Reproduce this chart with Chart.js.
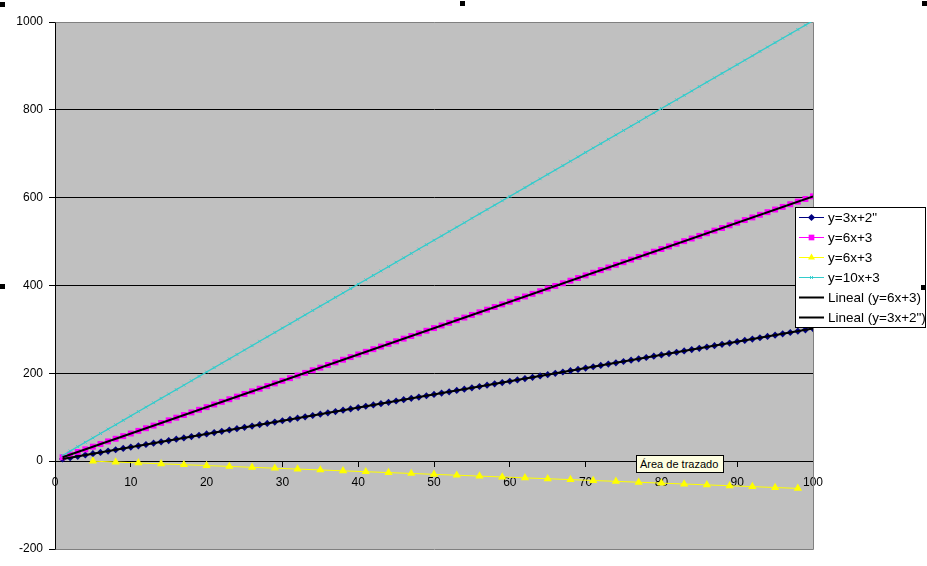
<!DOCTYPE html>
<html>
<head>
<meta charset="utf-8">
<script src="https://cdn.jsdelivr.net/npm/chart.js@4/dist/chart.umd.min.js"></script>
<style>
  html, body { margin: 0; padding: 0; background: #fff; }
  #wrap { position: relative; width: 927px; height: 566px; overflow: hidden; }
  canvas { position: absolute; left: 0; top: 0; }
  .handle { position: absolute; width: 5px; height: 5px; background: #000; }
  #tip { position: absolute; left: 636px; top: 455px; width: 83px; height: 16px; background: #FFFFE1;
         border: 1px solid #000; font: 11px "Liberation Sans", Arial, sans-serif; line-height: 16px;
         padding-left: 3px; box-sizing: content-box; color: #000; white-space: nowrap; }
</style>
</head>
<body>
<div id="wrap">
  <canvas id="c" width="927" height="566"></canvas>
  <div class="handle" style="left:0px;top:2px"></div>
  <div class="handle" style="left:460px;top:1px"></div>
  <div class="handle" style="left:922px;top:1px"></div>
  <div class="handle" style="left:0px;top:284px"></div>
  <div class="handle" style="left:921px;top:285px"></div>
  <div id="tip">Área de trazado</div>
</div>
<script>
const xValues = [1,2,3,4,5,6,7,8,9,10,11,12,13,14,15,16,17,18,19,20,21,22,23,24,25,26,27,28,29,30,
  31,32,33,34,35,36,37,38,39,40,41,42,43,44,45,46,47,48,49,50,51,52,53,54,55,56,57,58,59,60,
  61,62,63,64,65,66,67,68,69,70,71,72,73,74,75,76,77,78,79,80,81,82,83,84,85,86,87,88,89,90,
  91,92,93,94,95,96,97,98,99,100];
const seriesA = [5,8,11,14,17,20,23,26,29,32,35,38,41,44,47,50,53,56,59,62,
  65,68,71,74,77,80,83,86,89,92,95,98,101,104,107,110,113,116,119,122,
  125,128,131,134,137,140,143,146,149,152,155,158,161,164,167,170,173,176,179,182,
  185,188,191,194,197,200,203,206,209,212,215,218,221,224,227,230,233,236,239,242,
  245,248,251,254,257,260,263,266,269,272,275,278,281,284,287,290,293,296,299,302];
const seriesB = [9,15,21,27,33,39,45,51,57,63,69,75,81,87,93,99,105,111,117,123,
  129,135,141,147,153,159,165,171,177,183,189,195,201,207,213,219,225,231,237,243,
  249,255,261,267,273,279,285,291,297,303,309,315,321,327,333,339,345,351,357,363,
  369,375,381,387,393,399,405,411,417,423,429,435,441,447,453,459,465,471,477,483,
  489,495,501,507,513,519,525,531,537,543,549,555,561,567,573,579,585,591,597,603];
const seriesD = [13,23,33,43,53,63,73,83,93,103,113,123,133,143,153,163,173,183,193,203,
  213,223,233,243,253,263,273,283,293,303,313,323,333,343,353,363,373,383,393,403,
  413,423,433,443,453,463,473,483,493,503,513,523,533,543,553,563,573,583,593,603,
  613,623,633,643,653,663,673,683,693,703,713,723,733,743,753,763,773,783,793,803,
  813,823,833,843,853,863,873,883,893,903,913,923,933,943,953,963,973,983,993,1003];
const yellowX = [5,8,11,14,17,20,23,26,29,32,35,38,41,44,47,50,53,56,59,62,65,68,71,74,77,80,83,86,89,92,95,98];
const yellowY = [0,-2,-4,-6,-8,-10,-12,-14,-16,-18,-20,-22,-24,-26,-28,-30,-32,-34,-36,-38,-40,-42,-44,-46,-48,-50,-52,-54,-56,-58,-60,-62];
const trendBX = [1,100];
const trendBY = [9,603];
const trendAX = [1,100];
const trendAY = [5,302];
const seriesNames = ['y=3x+2"', 'y=6x+3', 'y=6x+3', 'y=10x+3', 'Lineal (y=6x+3)', 'Lineal (y=3x+2")'];
const xTicks = {min: 0, max: 100, step: 10};
const yTicks = {min: -200, max: 1000, step: 200};

const pts = (xs, ys) => xs.map((x, i) => ({x: x, y: ys[i]}));

Chart.defaults.font.family = '"Liberation Sans", Arial, sans-serif';
Chart.defaults.font.size = 12;
Chart.defaults.color = '#000';

const datasets = [
  {label: seriesNames[0], data: pts(xValues, seriesA), borderColor: '#000080', backgroundColor: '#000080',
   borderWidth: 1, pointStyle: 'rectRot', pointRadius: 3.6, pointBorderWidth: 0, order: 6},
  {label: seriesNames[1], data: pts(xValues, seriesB), borderColor: '#FF00FF', backgroundColor: '#FF00FF',
   borderWidth: 1, pointStyle: 'rect', pointRadius: 4.2, pointBorderWidth: 0, order: 5},
  {label: seriesNames[2], data: pts(yellowX, yellowY), borderColor: '#FFFF00', backgroundColor: '#FFFF00',
   borderWidth: 1, pointStyle: 'triangle', pointRadius: 4.8, pointBorderWidth: 0, order: 4},
  {label: seriesNames[3], data: pts(xValues, seriesD), borderColor: '#33CCCC', backgroundColor: '#33CCCC',
   borderWidth: 1.3, pointStyle: 'crossRot', pointRadius: 2, pointBorderWidth: 1, order: 3},
  {label: seriesNames[4], data: pts(trendBX, trendBY), borderColor: '#000', borderWidth: 2, pointRadius: 0, order: 2},
  {label: seriesNames[5], data: pts(trendAX, trendAY), borderColor: '#000', borderWidth: 2, pointRadius: 0, order: 1}
];

const excelPlugin = {
  id: 'excel',
  beforeDraw(chart) {
    const {ctx, chartArea: a} = chart;
    ctx.save();
    ctx.fillStyle = '#fff';
    ctx.fillRect(0, 0, chart.width, chart.height);
    ctx.fillStyle = '#C0C0C0';
    ctx.fillRect(a.left, a.top, a.right - a.left, a.bottom - a.top);
    ctx.restore();
  },
  beforeDatasetsDraw(chart) {
    const {ctx, chartArea: a} = chart;
    ctx.save();
    ctx.strokeStyle = '#808080';
    ctx.lineWidth = 1;
    ctx.beginPath();
    ctx.moveTo(Math.round(a.left) + 0.5, Math.round(a.top) + 0.5);
    ctx.lineTo(Math.round(a.right) + 0.5, Math.round(a.top) + 0.5);
    ctx.lineTo(Math.round(a.right) + 0.5, Math.round(a.bottom) + 0.5);
    ctx.lineTo(Math.round(a.left) + 0.5, Math.round(a.bottom) + 0.5);
    ctx.stroke();
    ctx.restore();
  },
  afterDraw(chart) {
    const {ctx} = chart;
    ctx.save();
    const bx = 795.5, by = 207.5, bw = 130, bh = 120;
    ctx.fillStyle = '#fff';
    ctx.fillRect(bx, by, bw, bh);
    ctx.strokeStyle = '#000';
    ctx.lineWidth = 1;
    ctx.strokeRect(bx, by, bw, bh);
    ctx.font = '13.5px "Liberation Sans", Arial, sans-serif';
    ctx.textBaseline = 'middle';
    chart.data.datasets.forEach((ds, i) => {
      const y = 217.5 + 20 * i;
      ctx.strokeStyle = ds.borderColor;
      ctx.lineWidth = (i >= 4) ? 2 : 1;
      ctx.beginPath();
      ctx.moveTo(799, y);
      ctx.lineTo(824, y);
      ctx.stroke();
      if (ds.pointRadius > 0) {
        ctx.fillStyle = ds.backgroundColor;
        ctx.strokeStyle = ds.borderColor;
        ctx.lineWidth = ds.pointBorderWidth || 0;
        Chart.helpers.drawPoint(ctx, {pointStyle: ds.pointStyle, radius: Math.min(ds.pointRadius, 4), rotation: 0,
          borderWidth: ds.pointBorderWidth || 0}, 811.5, y);
      }
      ctx.fillStyle = '#000';
      ctx.fillText(ds.label, 828, y + 1);
    });
    ctx.restore();
  }
};

new Chart(document.getElementById('c'), {
  type: 'scatter',
  data: {datasets: datasets},
  plugins: [excelPlugin],
  options: {
    responsive: false,
    animation: false,
    showLine: true,
    layout: {padding: {left: 0, right: 114, top: 22, bottom: 17}},
    plugins: {legend: {display: false}, tooltip: {enabled: false}},
    elements: {line: {tension: 0}},
    scales: {
      x: {
        type: 'linear',
        position: {y: 0},
        min: xTicks.min, max: xTicks.max,
        ticks: {stepSize: xTicks.step, padding: 9, color: '#000', maxRotation: 0, callback: (v) => String(v)},
        grid: {drawOnChartArea: false, drawTicks: true, tickLength: 5, tickColor: '#000'},
        border: {color: '#000', width: 1}
      },
      y: {
        type: 'linear',
        min: yTicks.min, max: yTicks.max,
        ticks: {stepSize: yTicks.step, padding: 6, color: '#000', callback: (v) => String(v)},
        grid: {
          color: (c) => (c.tick && (c.tick.value === yTicks.max || c.tick.value === yTicks.min)) ? 'rgba(0,0,0,0)' : '#000',
          tickColor: '#000', tickLength: 6, lineWidth: 1
        },
        border: {color: '#000', width: 1},
        afterFit(scale) { scale.width = 55; }
      }
    }
  }
});
</script>
</body>
</html>
